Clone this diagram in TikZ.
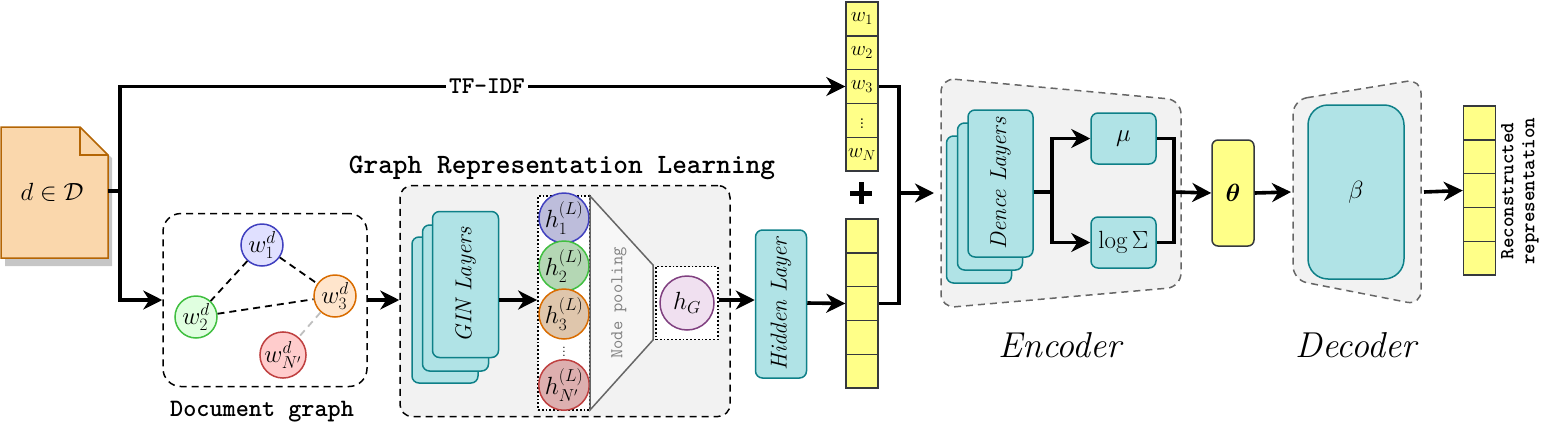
\documentclass[tikz,border=0pt]{standalone}
\usepackage{amsmath,amssymb}
\usetikzlibrary{arrows.meta,shapes.geometric,calc,positioning}
\definecolor{teal1}{HTML}{B0E3E6}\definecolor{teal2}{HTML}{0E8088}
\definecolor{yel1}{HTML}{FFFF88}\definecolor{yel2}{HTML}{36393D}
\definecolor{docf}{HTML}{FAD7AC}\definecolor{docs}{HTML}{B46504}
\definecolor{bgf}{HTML}{F2F2F2}
\begin{document}
\begin{tikzpicture}[x=1pt,y=-1pt,
  ar/.style={line width=3.6pt,-{Stealth[length=19pt,width=19pt,inset=6pt]}},
  ln/.style={line width=3.6pt},
  dsh/.style={dash pattern=on 7pt off 5pt},
  teal/.style={draw=teal2,fill=teal1,line width=1.5pt,rounded corners=7pt},
  cell/.style={draw=yel2,fill=yel1,line width=1.4pt,minimum width=32pt,minimum height=33.8pt,inner sep=0pt,font=\fontsize{21}{21}\selectfont},
  circ/.style={circle,line width=1.5pt,minimum size=42pt,inner sep=0pt,font=\fontsize{24}{24}\selectfont},
  ttl/.style={font=\fontsize{28}{28}\selectfont\ttfamily\bfseries},
  rot/.style={rotate=90,font=\fontsize{23}{23}\selectfont\itshape},
]
\useasboundingbox (0,0) rectangle (1543,426);
% document
\fill[gray!45] (5,131) -- (82,131) -- (112,158) -- (112,266) -- (5,266) -- cycle;
\coordinate (doc) at (108,191);
\draw[docs,fill=docf,line width=1.5pt] (1,127) -- (80,127) -- (108,155) -- (108,258) -- (1,258) -- cycle;
\draw[docs,line width=1.5pt] (80,127) -- (80,155) -- (108,155);
\node[font=\fontsize{30}{30}\selectfont] at (52,192) {$d\in\mathcal{D}$};
\coordinate (br) at (120,191);
% document graph
\node[draw,dsh,line width=1.5pt,rounded corners=18pt,minimum width=204pt,minimum height=173pt] (dg) at (265,300) {};
\node[font=\fontsize{25}{25}\selectfont\ttfamily\bfseries] at (262,412) {Document graph};
\node[circ,draw=blue!50!gray,fill=blue!12] (w1) at (262,245) {$w_1^d$};
\node[circ,draw=green!50!gray,fill=green!12] (w2) at (196,317) {$w_2^d$};
\node[circ,draw=orange!85!black,fill=orange!20] (w3) at (335,296) {$w_3^d$};
\node[circ,draw=red!50!gray,fill=red!20] (wn) at (283,355) {$w_{N'}^d$};
\draw[dsh,line width=1.8pt] (w1)--(w2) (w1)--(w3) (w2)--(w3);
\draw[dsh,line width=1.8pt,gray!50] (w3)--(wn);
% GRL box
\node[draw,dsh,fill=bgf,line width=1.5pt,rounded corners=12pt,minimum width=330pt,minimum height=231pt] (grl) at (565,301) {};
\node[ttl] at (562,168) {Graph Representation Learning};
\node[teal,minimum width=66pt,minimum height=146pt] (g3) at (445,310) {};
\node[teal,minimum width=66pt,minimum height=146pt] (g2) at (455.5,298) {};
\node[teal,minimum width=66pt,minimum height=146pt] (g1) at (465.5,284.5) {};
\node[rot] at (g1) {GIN Layers};
\node[draw,dotted,line width=1.8pt,fill=white,minimum width=52pt,minimum height=214pt] (col) at (564,303) {};
\node[circ,draw=blue!50!gray,fill=blue!30!gray!40,minimum size=45pt] (h1) at (564,218) {$h_1^{(L)}$};
\node[circ,draw=green!50!gray,fill=green!30!gray!45,minimum size=45pt] (h2) at (564,266) {$h_2^{(L)}$};
\node[circ,draw=orange!85!black,fill=orange!45!gray!45,minimum size=45pt] (h3) at (564,314) {$h_3^{(L)}$};
\node[circ,draw=red!50!gray,fill=red!40!gray!45,minimum size=45pt] (hn) at (564,385) {$h_{N'}^{(L)}$};
\node[font=\fontsize{14}{14}\selectfont,inner sep=0pt] at (564,349) {$\vdots$};
\draw[gray!80!black,fill=white!97!black,line width=1.5pt] (590,196) -- (653,265) -- (653,340) -- (590,410) -- cycle;
\node[rotate=90,font=\fontsize{18}{18}\selectfont\ttfamily,gray] at (619,303) {Node pooling};
\node[draw,dotted,line width=1.8pt,fill=white,minimum width=62pt,minimum height=73pt] (hgb) at (687,303) {};
\node[circ,draw=violet!50!gray,fill=violet!12,minimum size=54pt,font=\fontsize{26}{26}\selectfont] (hg) at (687,303) {$h_G$};
% hidden layer
\node[teal,minimum width=51pt,minimum height=148pt] (hid) at (781,304) {};
\node[rot] at (hid) {Hidden Layer};
% columns
\foreach \i/\t in {1/$w_1$,2/$w_2$,3/$w_3$,4/$\vdots$,5/$w_N$}
  \node[cell] (t\i) at (862,{2+16.9+33.8*(\i-1)}) {\t};
\foreach \i in {1,...,5}
  \node[cell] (b\i) at (862,{219+16.9+33.8*(\i-1)}) {};
\draw[line width=5pt] (850,193) -- (872,193) (861,182) -- (861,204);
% top connectors
\draw[ln] (doc) -- (br);
\draw[ar] (br) |- (t3.west);
\node[fill=white,inner sep=3pt,font=\fontsize{24}{24}\selectfont\ttfamily\bfseries] at (487,86) {TF-IDF};
\draw[ar] (br) |- (dg.west|-0,300);
\draw[ar] (dg.east|-0,300) -- (grl.west|-0,300);
\draw[ar] (g1.east|-0,300) -- (col.west|-0,300);
\draw[ar] (hgb.east|-0,300) -- (hid.west|-0,300);
\draw[ar] (hid.east|-0,303) -- (b3.west);
\coordinate (jn) at (899,193);
\draw[ln] (t3.east) -| (jn);
\draw[ln] (b3.east) -| (jn);
% encoder
\draw[dsh,gray!80!black,fill=bgf,line width=1.5pt,rounded corners=14pt] (941,78) -- (1181,100) -- (1181,287) -- (941,308) -- cycle;
\draw[ar] (jn) -- (934,193);
\node[teal,minimum width=65pt,minimum height=147pt] (d3) at (979,209.5) {};
\node[teal,minimum width=65pt,minimum height=147pt] (d2) at (990,196.5) {};
\node[teal,minimum width=65pt,minimum height=147pt] (d1) at (1000.5,183.5) {};
\node[rot] at (d1) {Dence Layers};
\node[teal,minimum width=65pt,minimum height=51pt] (mu) at (1123.5,138.5) {};
\node[font=\fontsize{26}{26}\selectfont] at (mu) {$\mu$};
\node[teal,minimum width=65pt,minimum height=51pt] (ls) at (1123.5,242.5) {};
\node[font=\fontsize{25}{25}\selectfont] at (ls) {$\log\Sigma$};
\coordinate (sp) at (1052,192);
\draw[ln] (d1.east|-sp) -- (sp);
\draw[ar] (sp) |- (mu.west);
\draw[ar] (sp) |- (ls.west);
\coordinate (mg) at (1174,192);
\draw[ln] (mu.east) -| (mg);
\draw[ln] (ls.east) -| (mg);
\node[draw=yel2,fill=yel1,line width=1.5pt,rounded corners=6pt,minimum width=42pt,minimum height=106pt,font=\fontsize{36}{36}\selectfont] (th) at (1233,193) {$\boldsymbol{\theta}$};
\draw[ar] (mg) -- (th.west);
\node[font=\fontsize{36}{36}\selectfont\itshape] at (1060,345) {Encoder};
% decoder
\draw[dsh,gray!80!black,fill=bgf,line width=1.5pt,rounded corners=14pt] (1293,100) -- (1421,79) -- (1421,305) -- (1293,280) -- cycle;
\node[teal,rounded corners=20pt,minimum width=96pt,minimum height=174pt,font=\fontsize{36}{36}\selectfont] (be) at (1356,192) {$\beta$};
\draw[ar] (th.east) -- (1291,192);
\node[font=\fontsize{36}{36}\selectfont\itshape] at (1356,345) {Decoder};
\foreach \i in {1,...,5}
  \node[cell,minimum height=33.8pt] (r\i) at (1479.5,{106+16.9+33.8*(\i-1)}) {};
\coordinate (dx) at (1424,192);
\draw[ar] (dx) -- (r3.west);
\node[rotate=90,align=center,font=\fontsize{20}{21}\selectfont\ttfamily\bfseries] at (1520,191) {Reconstructed\\representation};
\end{tikzpicture}
\end{document}
